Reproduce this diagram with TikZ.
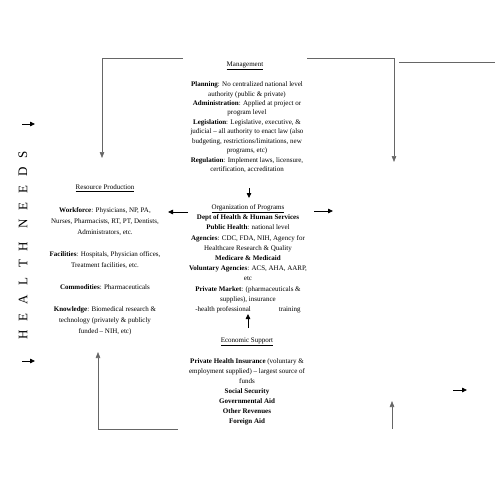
\documentclass[tikz,border=0pt]{standalone}
\usepackage{fontspec}
\setmainfont{Liberation Serif}
\usetikzlibrary{arrows.meta}
\tikzset{
  txt/.style={inner sep=0pt, align=center, font=\fontsize{7}{#1}\selectfont},
  head/.style={inner sep=0pt, anchor=base, font=\fontsize{7}{9}\selectfont},
  frame/.style={line width=0.6pt, color=black!60},
  tip/.style={-{Triangle[length=6pt,width=4.5pt]}},
  small/.style={line width=0.8pt, -{Triangle[length=5pt,width=4.5pt]}},
}

\begin{document}
\begin{tikzpicture}[x=1pt,y=-1pt]
			%%%%% START %%%%%
			\useasboundingbox (0,0) rectangle (495,495);
			
			% side label
			\foreach \ch/\y in {H/335,E/318,A/300,L/282,T/264,H/247,N/224,E/207,E/190,D/172,S/155}
			\node[rotate=90, inner sep=0pt, font=\fontsize{13}{13}\selectfont] at (23,\y) {\ch};
			
			% headings
			\node[head] (mgmthead) at (245,66.5) {\underline{Management}};
			\node[head] (orghead) at (248,209.5) {\underline{Organization of Programs}};
			\node[head] (reshead) at (105,189.5) {\underline{Resource Production}};
			\node[head] (econhead) at (247,342.5) {\underline{Economic Support}};
			
			% blocks
			\node[txt=9.45, anchor=north] (mgmt) at (247,81.5) {\textbf{Planning}: No centralized national level\\
				authority (public \& private)\\
				\textbf{Administration}: Applied at project or\\
				program level\\
				\textbf{Legislation}: Legislative, executive, \&\\
				judicial -- all authority to enact law (also\\
				budgeting, restrictions/limitations, new\\
				programs, etc)\\
				\textbf{Regulation}: Implement laws, licensure,\\
				certification, accreditation};
			
			\node[txt=10.2, anchor=north] (org) at (248,214.5) {\textbf{Dept of Health \& Human Services}\\
				\textbf{Public Health}: national level\\
				\textbf{Agencies}: CDC, FDA, NIH, Agency for\\
				Healthcare Research \& Quality\\
				\textbf{Medicare \& Medicaid}\\
				\textbf{Voluntary Agencies}: ACS, AHA, AARP,\\
				etc\\
				\textbf{Private Market}: (pharmaceuticals \&\\
				supplies), insurance\\
				-health professional\hspace{28pt}training};
			
			\node[txt=11, anchor=north] (res) at (105,207.5) {\textbf{Workforce}: Physicians, NP, PA,\\
				Nurses, Pharmacists, RT, PT, Dentists,\\
				Administrators, etc.\\[11pt]
				\textbf{Facilities}: Hospitals, Physician offices,\\
				Treatment facilities, etc.\\[11pt]
				\textbf{Commodities}: Pharmaceuticals\\[11pt]
				\textbf{Knowledge}: Biomedical research \&\\
				technology (privately \& publicly\\
				funded -- NIH, etc)};
			
			\node[txt=10, anchor=north] (econ) at (247,358.5) {\textbf{Private Health Insurance} (voluntary \&\\
				employment supplied) -- largest source of\\
				funds\\
				\textbf{Social Security}\\
				\textbf{Governmental Aid}\\
				\textbf{Other Revenues}\\
				\textbf{Foreign Aid}};
			
			% ends of the connectors
			\coordinate (tlA) at (183,58);
			\coordinate (tlB) at (102,58);
			\coordinate (tlC) at (102,158);
			\coordinate (trA) at (307,58);
			\coordinate (trB) at (394,58);
			\coordinate (trC) at (394,162);
			\coordinate (edgeA) at (399,62);
			\coordinate (edgeB) at (495,62);
			\coordinate (blA) at (178,429);
			\coordinate (blB) at (98,429);
			\coordinate (blC) at (98,352);
			\coordinate (brA) at (392,429);
			\coordinate (brB) at (392,401);
			\coordinate (mgmtout) at (249,188);
			\coordinate (orgin) at (249,198);
			\coordinate (econout) at (248,328);
			\coordinate (orgup) at (248,314);
			\coordinate (orgL) at (188,212);
			\coordinate (resR) at (168,212);
			\coordinate (orgR) at (314,211);
			\coordinate (farR) at (333,211);
			
			% frame lines
			\draw[frame, tip] (tlA) -- (tlB) -- (tlC);
			\draw[frame, tip] (trA) -- (trB) -- (trC);
			\draw[frame] (edgeA) -- (edgeB);
			\draw[frame, tip] (blA) -- (blB) -- (blC);
			\draw[frame, tip] (brA) -- (brB);
			
			% inner arrows
			\draw[small] (mgmtout) -- (orgin);
			\draw[small] (econout) -- (orgup);
			\draw[small] (orgL) -- (resR);
			\draw[small] (orgR) -- (farR);
			
			% loose arrows
			\draw[small] (22,124) -- (35,124);
			\draw[small] (22,361) -- (35,361);
			\draw[small] (453,390) -- (467,390);
			
			%%%%% END %%%%%
		\end{tikzpicture}
\end{document}
